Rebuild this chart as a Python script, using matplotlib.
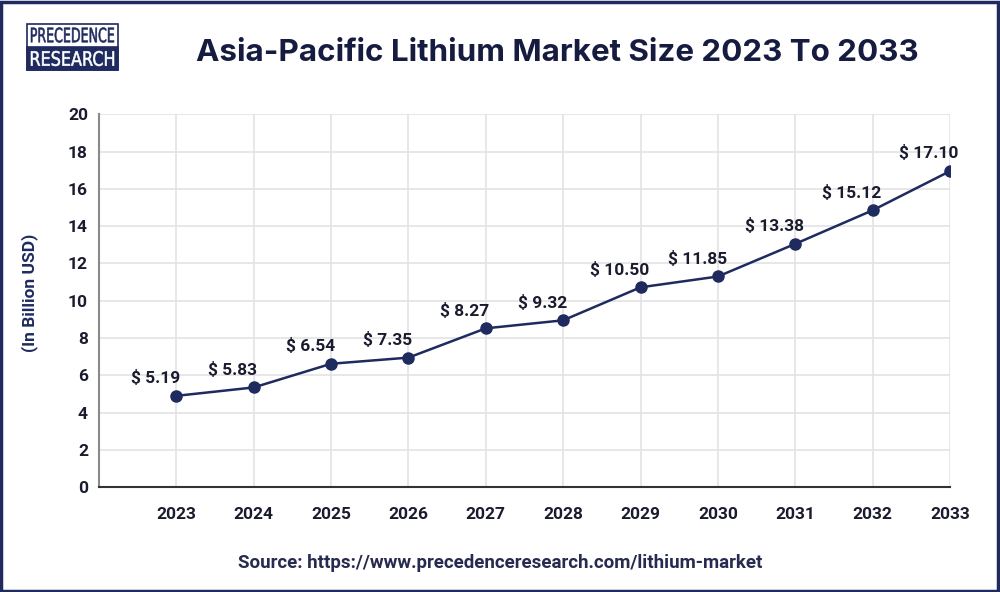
import matplotlib
matplotlib.use("Agg")
import matplotlib.pyplot as plt
from matplotlib.patches import Rectangle, PathPatch
from matplotlib.textpath import TextPath
from matplotlib.font_manager import FontProperties
from matplotlib.transforms import Affine2D

plt.rcParams['font.family'] = ['Roboto', 'DejaVu Sans']

# data
years = [2023, 2024, 2025, 2026, 2027, 2028, 2029, 2030, 2031, 2032, 2033]
# where the points are drawn (they sit a little under the printed labels)
point_values = [4.9, 5.35, 6.62, 6.95, 8.52, 8.95, 10.72, 11.3, 13.05, 14.85, 16.95]
value_labels = ["$ 5.19", "$ 5.83", "$ 6.54", "$ 7.35", "$ 8.27", "$ 9.32",
                "$ 10.50", "$ 11.85", "$ 13.38", "$ 15.12", "$ 17.10"]
y_ticks = [0, 2, 4, 6, 8, 10, 12, 14, 16, 18, 20]

navy = "#1f2a5e"
dark = "#1a1c2e"
title_col = "#161b40"

fig = plt.figure(figsize=(10, 5.92), dpi=100)
ax = fig.add_axes([0.099, 0.177, 0.851, 0.630])

ax.plot(years, point_values, color=navy, linewidth=1.8, marker='o',
        markersize=8, markerfacecolor=navy, markeredgecolor=navy, zorder=3)

for x, y, s in zip(years, point_values, value_labels):
    ax.annotate(s, (x, y), xytext=(-15, 7), textcoords='offset points',
                ha='center', va='bottom', fontsize=12.5, fontweight='bold', color=dark)

ax.set_xlim(2022, 2033)
ax.set_ylim(0, 20)
ax.set_xticks(years)
ax.set_yticks(y_ticks)
ax.tick_params(axis='both', length=0, labelsize=12.5, colors=dark, pad=8)
for lab in ax.get_xticklabels() + ax.get_yticklabels():
    lab.set_fontweight('bold')
ax.xaxis.set_tick_params(pad=14)

ax.grid(True, color="#e3e3e6", linewidth=1.2)
ax.set_axisbelow(True)
ax.spines['top'].set_visible(False)
ax.spines['right'].set_visible(False)
ax.spines['left'].set_color("#8a8a8a")
ax.spines['left'].set_linewidth(1.5)
ax.spines['bottom'].set_color("#333333")
ax.spines['bottom'].set_linewidth(1.5)

fig.text(0.03, 0.505, "(In Billion USD)", rotation=90, ha='center', va='center',
         fontsize=12.5, fontweight='bold', color=navy)

fig.text(0.5575, 0.91, "Asia-Pacific Lithium Market Size 2023 To 2033", ha='center',
         va='center', fontsize=22.6, fontweight='bold', color=title_col,
         family=['Inter', 'Roboto', 'DejaVu Sans'])

fig.text(0.5, 0.049, "Source: https://www.precedenceresearch.com/lithium-market",
         ha='center', va='center', fontsize=13.5, fontweight='bold', color="#262b4f")

# logo: box in pixels, text squeezed to a condensed look
fig.patches.append(Rectangle((27, 592 - 70), 91, 46, transform=None,
                             facecolor='white', edgecolor=navy, linewidth=1.2))
fig.patches.append(Rectangle((27, 592 - 70), 91, 23, transform=None,
                             facecolor=navy, edgecolor=navy, linewidth=1.2))
logo_font = FontProperties(family='DejaVu Sans', weight='normal')
for word, cy, col in [("PRECEDENCE", 592 - 35, navy), ("RESEARCH", 592 - 58.5, 'white')]:
    tp = TextPath((0, 0), word, size=10, prop=logo_font)
    bb = tp.get_extents()
    sx = 83 / bb.width
    sy = 15 / bb.height
    tr = Affine2D().translate(-bb.x0 - bb.width / 2, -bb.y0 - bb.height / 2).scale(sx, sy).translate(72.5, cy)
    fig.patches.append(PathPatch(tr.transform_path(tp), transform=None,
                                 facecolor=col, edgecolor=col, linewidth=0.4))

# frame
fig.patches.append(Rectangle((0.001, 0.002), 0.997, 0.995, transform=fig.transFigure,
                             facecolor='none', edgecolor=navy, linewidth=2.5))

fig.savefig("out.png", dpi=100)
